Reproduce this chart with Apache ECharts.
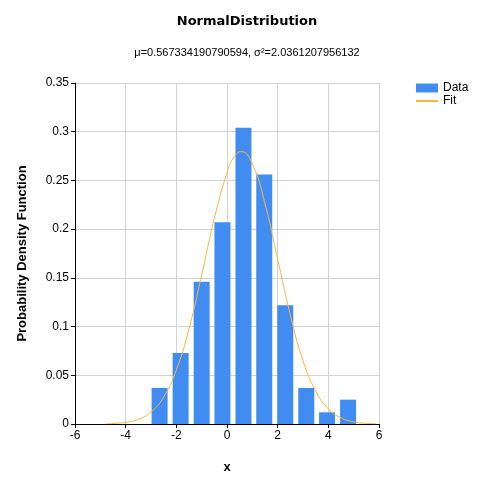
<!DOCTYPE html>
<html>
<head>
    <meta charset="utf-8">
    <title>NormalDistribution</title>
    <script src="https://cdn.jsdelivr.net/npm/echarts@6.0.0/dist/echarts.min.js"></script>
    <style>
        html, body { margin: 0; padding: 0; background: #fff; }
    </style>
</head>
<body>
<div id="main" style="width: 485px;height:484px;"></div>
<script type="text/javascript">
    // histogram bins (centre, density)
    var binCenters = [-2.66, -1.83, -1.00, -0.18, 0.65, 1.47, 2.30, 3.13, 3.95, 4.78];
    var binDensity = [0.037, 0.073, 0.146, 0.207, 0.304, 0.256, 0.122, 0.037, 0.012, 0.025];

    // fitted curve
    var fitX = [-4.75, -4.5, -4, -3.5, -3, -2.5, -2, -1.5, -1, -0.5, 0, 0.25, 0.57, 1, 1.5, 2, 2.5, 3, 3.5, 4, 4.5, 5, 5.5, 5.88];
    var fitY = [0.0003, 0.0006, 0.0017, 0.0048, 0.0123, 0.0278, 0.0554, 0.0978, 0.153, 0.211, 0.258, 0.273, 0.2796, 0.267, 0.226, 0.169, 0.112, 0.065, 0.034, 0.0155, 0.0063, 0.0022, 0.0007, 0.0003];

    var xTicks = [-6, 6, 2];
    var yTicks = [0, 0.35, 0.05];

    var barData = binCenters.map(function (x, i) { return [x, binDensity[i]]; });
    var fitData = fitX.map(function (x, i) { return [x, fitY[i]]; });

    var font = 'Liberation Sans, Arial, sans-serif';
    var myChart = echarts.init(document.getElementById('main'));
    var option = {
        animation: false,
        title: {
            text: 'NormalDistribution',
            subtext: 'μ=0.567334190790594, σ²=2.0361207956132',
            left: 242,
            textAlign: 'center',
            top: 10,
            itemGap: 19,
            textStyle: {
                fontFamily: 'DejaVu Sans, sans-serif',
                fontWeight: 'bold',
                fontSize: 13,
                color: '#000'
            },
            subtextStyle: {
                fontFamily: font,
                fontSize: 11,
                color: '#000'
            }
        },
        legend: {
            left: 411,
            top: 77,
            orient: 'vertical',
            itemWidth: 22,
            itemHeight: 9,
            itemGap: 1,
            textStyle: {
                fontFamily: font,
                fontSize: 12,
                color: '#000'
            },
            data: [
                {name: 'Data', icon: 'rect'},
                {name: 'Fit', icon: 'path://M0,4 L22,4 L22,6 L0,6 Z'}
            ]
        },
        grid: {
            left: 75,
            right: 106,
            top: 83,
            bottom: 60
        },
        xAxis: {
            type: 'value',
            min: xTicks[0],
            max: xTicks[1],
            interval: xTicks[2],
            name: 'x',
            nameLocation: 'middle',
            nameGap: 37,
            nameTextStyle: {
                fontFamily: font,
                fontWeight: 'bold',
                fontSize: 13,
                color: '#000'
            },
            axisLine: {onZero: false, lineStyle: {color: '#000', width: 1}},
            axisTick: {show: true, length: 4, lineStyle: {color: '#000'}},
            axisLabel: {fontFamily: font, fontSize: 12, color: '#000', margin: 6},
            splitLine: {show: true, lineStyle: {color: '#d3d3d3', width: 1}}
        },
        yAxis: {
            type: 'value',
            min: yTicks[0],
            max: yTicks[1],
            interval: yTicks[2],
            name: 'Probability Density Function',
            nameLocation: 'middle',
            nameGap: 46,
            nameTextStyle: {
                fontFamily: font,
                fontWeight: 'bold',
                fontSize: 13,
                color: '#000'
            },
            axisLine: {show: true, onZero: false, lineStyle: {color: '#000', width: 1}},
            axisTick: {show: true, length: 4, lineStyle: {color: '#000'}},
            axisLabel: {fontFamily: font, fontSize: 12, color: '#000', margin: 6},
            splitLine: {show: true, lineStyle: {color: '#d3d3d3', width: 1}}
        },
        series: [{
            name: 'Data',
            type: 'bar',
            data: barData,
            barWidth: 16,
            itemStyle: {color: '#418CF0'},
            z: 2
        }, {
            name: 'Fit',
            type: 'line',
            data: fitData,
            smooth: true,
            showSymbol: false,
            symbol: 'none',
            lineStyle: {color: '#FCB441', width: 1},
            itemStyle: {color: '#FCB441'},
            z: 3
        }]
    };
    myChart.setOption(option);
</script>
</body>
</html>
